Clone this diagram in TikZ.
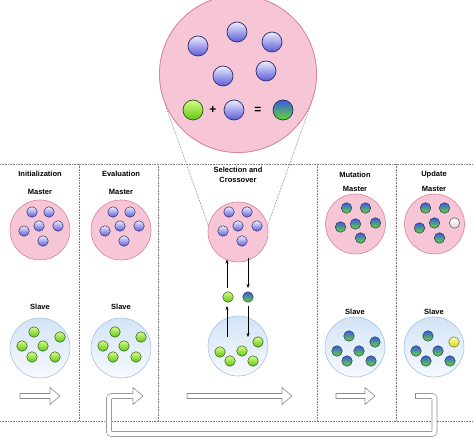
\documentclass[tikz,border=0pt]{standalone}
\usepackage{fontspec}
\setmainfont{Liberation Sans}
\usetikzlibrary{arrows.meta}
\definecolor{mpink}{HTML}{F7C6D6}
\definecolor{mborder}{HTML}{D8829F}
\definecolor{sblue}{HTML}{D3E4F6}
\definecolor{sborder}{HTML}{A6C2E4}
\definecolor{blight}{HTML}{EEEEFF}
\definecolor{bdeep}{HTML}{5A5AD8}
\definecolor{bedge}{HTML}{2C2C66}
\definecolor{glight}{HTML}{DAFA88}
\definecolor{gdeep}{HTML}{5CC814}
\definecolor{gedge}{HTML}{2E5510}
\definecolor{xtop}{HTML}{3C56EE}
\definecolor{xmid}{HTML}{38C0C8}
\definecolor{xbot}{HTML}{62DC24}
\definecolor{xedge}{HTML}{22344E}
\definecolor{harrowgray}{HTML}{8C8C8C}
\definecolor{dotgray}{HTML}{7A7A7A}
\newcommand{\harrow}[3]{%
  \draw[hollow] (#1,{#3-2.5}) -- ({#2-10},{#3-2.5}) -- ({#2-10},{#3-8.5}) -- (#2,#3)
    -- ({#2-10},{#3+8.5}) -- ({#2-10},{#3+2.5}) -- (#1,{#3+2.5}) -- cycle;}
\begin{document}
\begin{tikzpicture}[x=1pt,y=-1pt,
  lbl/.style={font=\bfseries\fontsize{7.5}{9}\selectfont, align=center, inner sep=0pt},
  master/.style={circle, draw=mborder, fill=mpink, line width=0.6pt, minimum size=60pt, inner sep=0pt},
  slave/.style={circle, draw=sborder, top color=sblue, bottom color=sblue!20, line width=0.6pt, minimum size=60pt, inner sep=0pt},
  ballbase/.style={circle, minimum size=10.5pt, inner sep=0pt, line width=0.5pt},
  bb/.style={ballbase, draw=bedge, top color=blight, bottom color=bdeep},
  gb/.style={ballbase, draw=gedge, top color=glight, bottom color=gdeep},
  xb/.style={ballbase, draw=xedge, top color=xtop, middle color=xmid, bottom color=xbot},
  wb/.style={ballbase, draw=black!70, top color=white, bottom color=black!15},
  yb/.style={ballbase, draw=black!60, top color=yellow!30, bottom color=yellow!85!black},
  bigball/.style={minimum size=20pt, line width=0.7pt},
  dotline/.style={draw=dotgray, line width=0.6pt, dash pattern=on 0.7pt off 0.9pt},
  hollow/.style={draw=harrowgray, fill=white, line width=0.6pt, line join=miter},
  thinarr/.style={draw=black, line width=0.5pt, -{Stealth[length=4pt,width=3pt]}}
]
\useasboundingbox (0,0) rectangle (474,438);
\clip (0,0) rectangle (474,438);

% frame
\coordinate (ftl) at (0,164); \coordinate (ftr) at (474,164);
\coordinate (fbl) at (0,421); \coordinate (fbr) at (474,421);
\draw[dotline] (ftl) -- (ftr);
\draw[dotline] (fbl) -- (fbr);
\foreach \x [count=\i] in {79,158,317,396} {
  \coordinate (dt\i) at (\x,164); \coordinate (db\i) at (\x,421);
  \draw[dotline] (dt\i) -- (db\i);
}

% labels
\node[lbl] (t1) at (40,174) {Initialization};
\node[lbl] (t2) at (121,174) {Evaluation};
\node[lbl] (t3) at (238,175) {Selection and\\[1pt]Crossover};
\node[lbl] (t4) at (355,175) {Mutation};
\node[lbl] (t5) at (434,175) {Update};
\node[lbl] (ml1) at (40,192) {Master};
\node[lbl] (ml2) at (121,192) {Master};
\node[lbl] (ml4) at (355,189) {Master};
\node[lbl] (ml5) at (434,189) {Master};
\node[lbl] (sl1) at (40,307) {Slave};
\node[lbl] (sl2) at (121,307) {Slave};
\node[lbl] (sl4) at (355,312) {Slave};
\node[lbl] (sl5) at (434,312) {Slave};

% master circles
\node[master] (m1) at (40,230) {};
\node[master] (m2) at (121,230) {};
\node[master] (m3) at (238,232) {};
\node[master] (m4) at (355.5,224) {};
\node[master] (m5) at (434.5,224) {};

% slave circles
\node[slave] (s1) at (40,348) {};
\node[slave] (s2) at (121,348) {};
\node[slave] (s3) at (238,346) {};
\node[slave] (s4) at (355,347) {};
\node[slave] (s5) at (434,347) {};

% magnifier
\node[master, minimum size=157pt, line width=0.7pt] (big) at (238,74) {};
\draw[dotline] (big.201) -- (m3.168);
\draw[dotline] (big.339) -- (m3.12);
\node[master, minimum size=157pt, line width=0.7pt] (big2) at (238,74) {};

% master balls
\foreach \dx/\dy [count=\i] in {-8/-18,9/-18,-16/1,-1/-4,18/-4,3/11} {
  \node[bb] (m1b\i) at ([shift={(\dx,\dy)}]m1.center) {};
  \node[bb] (m2b\i) at ([shift={(\dx,\dy)}]m2.center) {};
}
\foreach \dx/\dy [count=\i] in {-9/-20,9/-20,-15/-1,0/-6,19/-6,4/9} {
  \node[bb] (m3b\i) at ([shift={(\dx,\dy)}]m3.center) {};
}
\foreach \dx/\dy [count=\i] in {-9/-16,10/-16,-15/3,0/0,20/-1,5/14} {
  \node[xb] (m4b\i) at ([shift={(\dx,\dy)}]m4.center) {};
}
\foreach \dx/\dy [count=\i] in {-9/-16,10/-16,-15/4,0/-1,5/14} {
  \node[xb] (m5b\i) at ([shift={(\dx,\dy)}]m5.center) {};
}
\node[wb] (m5w) at ([shift={(20,-1)}]m5.center) {};

% slave balls
\foreach \dx/\dy [count=\i] in {-6/-16,20/-11,-18/-2,3/-2,-8/9,15/9} {
  \node[gb] (s1b\i) at ([shift={(\dx,\dy)}]s1.center) {};
  \node[gb] (s2b\i) at ([shift={(\dx,\dy)}]s2.center) {};
}
\foreach \dx/\dy [count=\i] in {20/-4,-18/6,4/5,-8/15,15/15} {
  \node[gb] (s3b\i) at ([shift={(\dx,\dy)}]s3.center) {};
}
\foreach \dx/\dy [count=\i] in {-6/-11,20/-5,-18/4,4/4,-8/14,16/14} {
  \node[xb] (s4b\i) at ([shift={(\dx,\dy)}]s4.center) {};
}
\foreach \dx/\dy [count=\i] in {-6/-11,-18/4,4/4,-8/14,16/14} {
  \node[xb] (s5b\i) at ([shift={(\dx,\dy)}]s5.center) {};
}
\node[yb] (s5y) at ([shift={(20,-5)}]s5.center) {};

% exchanged individuals
\node[gb] (sg) at (228,297) {};
\node[xb] (sx) at (248,297) {};
\coordinate (ua1) at (227,288); \coordinate (ua2) at (227,259.5);
\coordinate (da1) at (248,258); \coordinate (da2) at (248,288);
\coordinate (ub1) at (227,337); \coordinate (ub2) at (227,306);
\coordinate (db1x) at (248,306); \coordinate (db2x) at (248,337);
\draw[thinarr] (ua1) -- (ua2);
\draw[thinarr] (da1) -- (da2);
\draw[thinarr] (ub1) -- (ub2);
\draw[thinarr] (db1x) -- (db2x);

% big circle content
\foreach \x/\y [count=\i] in {198/46,237/32,272/42,223/76,266/71} {
  \node[bb, bigball] (bb\i) at (\x,\y) {};
}
\node[gb, bigball] (bg) at (193,110) {};
\node[font=\bfseries\fontsize{12}{12}\selectfont, inner sep=0pt] (plus) at (213,110) {+};
\node[bb, bigball] (bblue) at (234,110) {};
\node[font=\bfseries\fontsize{12}{12}\selectfont, inner sep=0pt] (eq) at (258,110) {=};
\node[xb, bigball] (bx) at (283,110) {};

% hollow arrows
\harrow{20}{60}{396}
\harrow{187}{292}{396}
\harrow{336}{375}{396}

% feedback arrow
\coordinate (f0) at (415,396);
\coordinate (f1) at (434.5,396);
\coordinate (f2) at (434.5,434);
\coordinate (f3) at (109,434);
\coordinate (f4) at (109,396);
\coordinate (f5) at (133,396);
\draw[draw=harrowgray, line width=0.6pt, double=white, double distance=4.4pt, rounded corners=2.5pt]
  (f0) -- (f1) -- (f2) -- (f3) -- (f4) -- (f5);
\draw[draw=harrowgray, line width=0.6pt] (415,393.2) -- (415,398.8);
\draw[hollow, fill=none] (133,393.2) -- (133,387.5) -- (143,396) -- (133,404.5) -- (133,398.8);
\end{tikzpicture}
\end{document}
